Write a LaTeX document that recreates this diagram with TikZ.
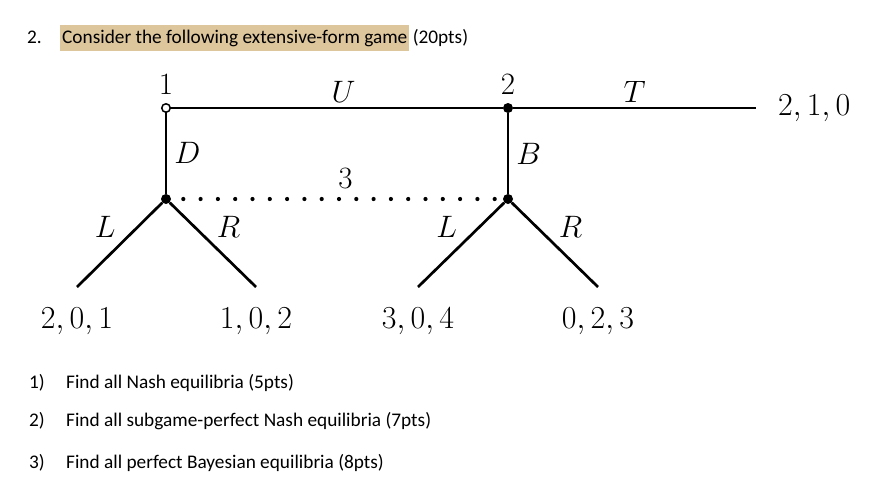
\documentclass[tikz,border=0pt]{standalone}
\usepackage{fix-cm}
\usepackage{fontspec}
\newfontfamily\calib{Carlito}
\usepackage{tikz}
\usetikzlibrary{calc,positioning}
\definecolor{HiLite}{HTML}{DDC59C}

\begin{document}
\begin{tikzpicture}[x=1pt,y=-1pt]
  \tikzstyle{opendec}=[circle, draw, fill=white, line width=1.5pt, inner sep=0pt, minimum size=8.5pt]
  \tikzstyle{decnode}=[circle, fill, inner sep=0pt, minimum size=10pt]
  \tikzstyle{move}=[line width=2.7pt]
  \tikzstyle{infoset}=[line width=4.2pt, line cap=round, dash pattern=on 0pt off 17.3pt]
  \tikzstyle{lab}=[font=\fontsize{31}{36}\selectfont, inner sep=1pt]
  \tikzstyle{pay}=[font=\fontsize{32}{37}\selectfont, inner sep=2pt]
  \tikzstyle{prose}=[font=\calib\fontsize{19.3}{23}\selectfont, inner sep=0pt, anchor=base west]
  \useasboundingbox (0,0) rectangle (887,488);
  % heading
  \node[prose] (num) at (27,43) {2.};
  \node[prose, fill=HiLite, inner xsep=2pt, inner ysep=5pt] (head) at (60,43) {Consider the following extensive-form game};
  \node[prose, right=3pt of head.base east, anchor=base west] (pts) {(20pts)};
  % player 1 and player 2
  \node[opendec] (p1) at (166,108) {};
  \node[decnode] (p2) at (508,108) {};
  \node[lab] at (166,85) {$1$};
  \node[lab] at (508,85) {$2$};
  \coordinate (tend) at (756,108);
  \node[pay, right=20pt of tend] (t210) {$2,1,0$};
  \draw[move] (p1) -- node[lab, above=3pt, pos=0.52] {$U$} (p2);
  \draw[move] (p2) -- node[lab, above=3pt, pos=0.5] {$T$} (tend);
  % player 3
  \node[decnode] (p3a) at (166,199) {};
  \node[decnode] (p3b) at (508,199) {};
  \draw[move] (p1) -- node[lab, right=6pt] {$D$} (p3a);
  \draw[move] (p2) -- node[lab, right=6pt] {$B$} (p3b);
  \draw[infoset] (p3a) ++(17.3,0) -- node[lab, above=7pt, pos=0.5] {$3$} ($(p3b)+(-0.2,0)$);
  % leaves
  \coordinate (a) at (77,287);
  \coordinate (b) at (256,287);
  \coordinate (c) at (418,287);
  \coordinate (d) at (598,287);
  \draw[move] (p3a) -- node[lab, above left=1pt and 6pt, pos=0.45] {$L$} (a);
  \draw[move] (p3a) -- node[lab, above right=1pt and 6pt, pos=0.45] {$R$} (b);
  \draw[move] (p3b) -- node[lab, above left=1pt and 6pt, pos=0.45] {$L$} (c);
  \draw[move] (p3b) -- node[lab, above right=1pt and 6pt, pos=0.45] {$R$} (d);
  \node[pay, below=19pt of a] {$2,0,1$};
  \node[pay, below=19pt of b] {$1,0,2$};
  \node[pay, below=19pt of c] {$3,0,4$};
  \node[pay, below=19pt of d] {$0,2,3$};
  % questions
  \node[prose] (q1) at (29,388) {1)};
  \node[prose] at (66,388) {Find all Nash equilibria (5pts)};
  \node[prose] (q2) at (29,426) {2)};
  \node[prose] at (66,426) {Find all subgame-perfect Nash equilibria (7pts)};
  \node[prose] (q3) at (29,468) {3)};
  \node[prose] at (66,468) {Find all perfect Bayesian equilibria (8pts)};
\end{tikzpicture}
\end{document}
